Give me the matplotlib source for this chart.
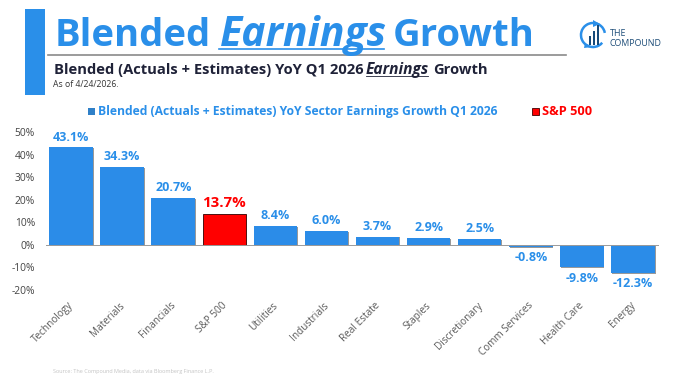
import matplotlib
matplotlib.use('Agg')
import matplotlib.pyplot as plt
import matplotlib.patheffects as pe
from matplotlib.patches import Rectangle, Arc, Polygon
from matplotlib.transforms import ScaledTranslation

# Data
sectors = ['Technology', 'Materials', 'Financials', 'S&P 500', 'Utilities', 'Industrials',
           'Real Estate', 'Staples', 'Discretionary', 'Comm Services', 'Health Care', 'Energy']
growth = [43.1, 34.3, 20.7, 13.7, 8.4, 6.0, 3.7, 2.9, 2.5, -0.8, -9.8, -12.3]
yticks = [-20, -10, 0, 10, 20, 30, 40, 50]

BLUE = '#2a8fe9'
RED = '#ff0000'
NAVY = '#1f2238'
W, H = 687, 382

plt.rcParams['font.family'] = ['Open Sans', 'DejaVu Sans']

fig = plt.figure(figsize=(W / 100, H / 100), dpi=100, facecolor='white')

# Overlay in pixel coordinates for the slide furniture
ov = fig.add_axes([0, 0, 1, 1], zorder=0)
ov.set_xlim(0, W)
ov.set_ylim(H, 0)
ov.axis('off')

ov.add_patch(Rectangle((24.5, 8.5), 20.5, 86.5, color=BLUE, lw=0))
ov.plot([48, 566], [55, 55], color='#8a8a8a', lw=1.2)

# Title
ov.text(55, 46, 'Blended', color=BLUE, fontsize=27.5, fontweight='bold', va='baseline')
ov.text(220, 46, 'Earnings', color=BLUE, fontsize=29.5, fontweight='bold', style='italic', va='baseline')
ov.text(393, 46, 'Growth', color=BLUE, fontsize=27.5, fontweight='bold', va='baseline')
ov.plot([219, 384], [48.5, 48.5], color=BLUE, lw=1.2)

# Subtitle
ov.text(54, 74, 'Blended (Actuals + Estimates) YoY Q1 2026', color=NAVY, fontsize=10.6, fontweight='bold', va='baseline')
ov.text(366, 74, 'Earnings', color=NAVY, fontsize=11.2, fontweight='bold', style='italic', va='baseline')
ov.text(433, 74, 'Growth', color=NAVY, fontsize=10.6, fontweight='bold', va='baseline')
ov.plot([366, 428], [75.5, 75.5], color=NAVY, lw=0.6)
ov.text(53, 87, 'As of 4/24/2026.', color='#333333', fontsize=6.2, va='baseline')

# Logo
ov.add_patch(Arc((593, 35), 24, 24, theta1=-320, theta2=-10, color=BLUE, lw=1.8))
ov.add_patch(Polygon([[585, 43], [592, 47], [584, 48]], color=BLUE, lw=0))
ov.add_patch(Polygon([[593, 20], [600, 24], [593, 27]], color=BLUE, lw=0))
for lx, ly in [(588.5, 36), (592.5, 31), (596.5, 25)]:
    ov.add_patch(Rectangle((lx, ly), 2.6, 44.5 - ly, color='#164a7a', lw=0))
ov.text(610, 36, 'THE', color='#1f4e79', fontsize=6.4, va='baseline')
ov.text(610, 46, 'COMPOUND', color='#1f4e79', fontsize=6.4, va='baseline')

# Legend
ov.add_patch(Rectangle((88, 108), 6.5, 7, color='#2f80c8', lw=0))
ov.text(97.5, 115, 'Blended (Actuals + Estimates) YoY Sector Earnings Growth Q1 2026', color=BLUE,
        fontsize=8.75, fontweight='bold', va='baseline')
ov.add_patch(Rectangle((532, 108), 6.5, 7, facecolor=RED, edgecolor='#400000', lw=0.6))
ov.text(542, 115, 'S&P 500', color=RED, fontsize=9.2, fontweight='bold', va='baseline')

# Source
ov.text(53, 373, 'Source: The Compound Media, data via Bloomberg Finance L.P.', color='#c4c4c4', fontsize=4.0, va='baseline')

# Chart axes: 0% sits at y=245, 2.26 px per point
left, right = 45.5, 658.5
top, bottom = 131, 291
ax = fig.add_axes([left / W, 1 - bottom / H, (right - left) / W, (bottom - top) / H], zorder=1)
ax.patch.set_alpha(0)
x = list(range(len(sectors)))
colors = [RED if s == 'S&P 500' else '#2b8ce8' for s in sectors]
bars = ax.bar(x, growth, width=0.85, color=colors, linewidth=0, zorder=2)
for b, s in zip(bars, sectors):
    if s == 'S&P 500':
        b.set_edgecolor('#300000')
        b.set_linewidth(0.6)
    else:
        b.set_path_effects([pe.SimplePatchShadow(offset=(0.6, -0.6), shadow_rgbFace='#555555', alpha=0.6), pe.Normal()])
ax.axhline(0, color='#9a9a9a', lw=0.7, zorder=3)
ax.set_xlim(-0.5, len(sectors) - 0.5)
ax.set_ylim(-20.4, 50.4)
ax.set_yticks(yticks)
ax.set_yticklabels([f'{t}%' for t in yticks], color='#444444', fontsize=7.4)
ax.set_xticks(x)
ax.set_xticklabels(sectors, rotation=45, ha='right', rotation_mode='anchor', color='#5a5a5a', fontsize=7.2)
ax.tick_params(axis='y', length=0, pad=7.5)
ax.tick_params(axis='x', length=0, pad=6.5)
shift = ScaledTranslation(-3 / 100, 0, fig.dpi_scale_trans)
for lab in ax.get_xticklabels():
    lab.set_transform(lab.get_transform() + shift)
for s in ax.spines.values():
    s.set_visible(False)

# Value labels
for i, v in enumerate(growth):
    is_spx = sectors[i] == 'S&P 500'
    ax.annotate(f'{v}%', (i, v), xytext=(0, 2.8 if v > 0 else -3.4),
                textcoords='offset points', ha='center', va='bottom' if v > 0 else 'top',
                color=RED if is_spx else BLUE, fontweight='bold', fontsize=10.8 if is_spx else 9)

fig.savefig('out.png', dpi=100)
